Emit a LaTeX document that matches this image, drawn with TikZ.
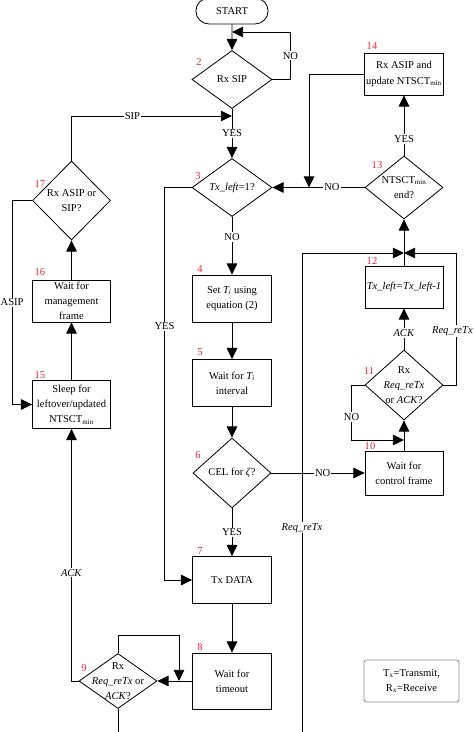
\documentclass[tikz,border=0pt]{standalone}
\usepackage{fontspec}
\setmainfont{Liberation Serif}
\usetikzlibrary{arrows.meta,shapes.geometric,shapes.misc}
\definecolor{numred}{RGB}{230,40,50}
\newlength\pxu
\setlength\pxu{0.03cm}

\begin{document}
\begin{tikzpicture}[x=0.03cm,y=-0.03cm,->,>={Triangle[length=9.5pt,width=9pt]},
                    line width=0.7pt,
                    every node/.style={font=\fontsize{9}{13}\selectfont}]
  \tikzstyle{block}=[rectangle,draw,minimum width=79\pxu,minimum height=47\pxu,inner sep=0.5pt,align=center]
  \tikzstyle{decision}=[diamond,draw,aspect=1.2,inner sep=-10pt,minimum width=78\pxu,align=center]
  \tikzstyle{terminal}=[rounded rectangle,draw,minimum width=80\pxu,minimum height=26\pxu]
  \tikzstyle{num}=[text=numred,inner sep=0pt]
  \tikzstyle{lbl}=[fill=white,inner sep=1pt]
  \tikzstyle{key}=[rectangle,draw=black!45,rounded corners=2pt,minimum width=95\pxu,minimum height=42\pxu,align=center]

  \useasboundingbox (0,0) rectangle (474,732);

  % main column
  \node[terminal]                                          (start)   at (232,11)    {START};
  \node[decision,minimum width=80\pxu,minimum height=58\pxu] (rxsip)   at (232,79.5)  {Rx SIP};
  \node[decision,minimum width=80\pxu,minimum height=58\pxu] (txleft)  at (232,187.5) {\textit{Tx\_left}=1?};
  \node[block]                                             (seti)    at (232,298.5) {Set \textit{T\textsubscript{i}} using\\equation (2)};
  \node[block]                                             (waiti)   at (232,383)   {Wait for \textit{T\textsubscript{i}}\\interval};
  \node[decision,minimum height=70\pxu]                     (cel)     at (232,473)   {CEL for \textit{ζ}?};
  \node[block]                                             (txdata)  at (232,580)   {Tx DATA};
  \node[block,minimum height=56\pxu]                        (timeout) at (232,681)   {Wait for\\timeout};

  % left column
  \node[decision,minimum height=55\pxu]                     (rxack)   at (118,681)   {Rx\\\textit{Req\_reTx} or\\\textit{ACK}?};
  \node[block,minimum width=78\pxu,minimum height=48\pxu]   (sleep)   at (71.5,404.5) {Sleep for\\leftover/updated\\NTSCT\textsubscript{min}};
  \node[block,minimum width=78\pxu,minimum height=42\pxu]   (mgmt)    at (71.5,301)  {Wait for\\management\\frame};
  \node[decision,minimum height=79\pxu]                     (rxasip)  at (71.5,200.5) {Rx ASIP or\\SIP?};

  % right column
  \node[block,minimum height=42\pxu]                        (update)  at (404,74)    {Rx ASIP and\\update NTSCT\textsubscript{min}};
  \node[decision,minimum height=63\pxu]                     (ntsct)   at (404,187.5) {NTSCT\textsubscript{min}\\end?};
  \node[block,minimum width=78\pxu,minimum height=42\pxu]   (dec)     at (404,287)   {\textit{Tx\_left=Tx\_left-1}};
  \node[decision,minimum height=70\pxu]                     (rxctrl)  at (404,385)   {Rx\\\textit{Req\_reTx}\\or \textit{ACK}?};
  \node[block,minimum width=78\pxu,minimum height=44\pxu]   (ctrl)    at (404,473)   {Wait for\\control frame};
  \node[key]                                               (legend)  at (411.5,681) {T\textsubscript{x}=Transmit,\\R\textsubscript{x}=Receive};

  % step numbers
  \node[num] (n2)  at (199,62)  {2};
  \node[num] (n3)  at (198,176) {3};
  \node[num] (n4)  at (200,269) {4};
  \node[num] (n5)  at (200,352) {5};
  \node[num] (n6)  at (198,455) {6};
  \node[num] (n7)  at (200,551) {7};
  \node[num] (n8)  at (200,647) {8};
  \node[num] (n9)  at (84,668)  {9};
  \node[num] (n10) at (370,446) {10};
  \node[num] (n11) at (369,371) {11};
  \node[num] (n12) at (372,261) {12};
  \node[num] (n13) at (377,165) {13};
  \node[num] (n14) at (372,46)  {14};
  \node[num] (n15) at (40,375)  {15};
  \node[num] (n16) at (40,272)  {16};
  \node[num] (n17) at (40,184)  {17};

  \coordinate (j1) at (232,32);
  \coordinate (j2) at (232,116);
  \coordinate (j3) at (179,681);
  \coordinate (j4) at (309,187.5);
  \coordinate (j5) at (404,253);
  \coordinate (j6) at (404,440);
  \coordinate (e1) at (118,740);
  \coordinate (e2) at (302,740);

  \path (start)   edge                                (rxsip)
        (rxsip)   edge node[lbl]{YES}                 (txleft)
        (txleft)  edge node[lbl,pos=0.35]{NO}         (seti)
        (seti)    edge                                (waiti)
        (waiti)   edge                                (cel)
        (cel)     edge node[lbl]{YES}                 (txdata)
        (txdata)  edge                                (timeout)
        (timeout) edge                                (rxack)
        (sleep)   edge                                (mgmt)
        (mgmt)    edge                                (rxasip)
        (ntsct)   edge node[lbl,pos=0.275]{YES}       (update)
        (ntsct)   edge node[lbl,pos=0.355]{NO}        (txleft)
        (rxctrl)  edge node[lbl,pos=0.4]{\textit{ACK}} (dec)
        (ctrl)    edge                                (rxctrl)
        (cel)     edge node[lbl,pos=0.55]{NO}         (ctrl)
        (j5)      edge                                (ntsct);

  \draw (rxsip.east) -- ++(18,0) |- node[lbl,pos=0.25]{NO} (j1);
  \draw (rxasip.north) |- node[lbl,pos=0.69]{SIP} (j2);
  \draw (txleft.west) -- ++(-27,0) |- node[lbl,pos=0.177]{YES} (txdata.west);
  \draw (rxack.north) -- ++(0,-18) -| (j3);
  \draw (rxack.west) -| node[lbl,pos=0.715]{\textit{ACK}} (sleep.south);
  \draw[-] (rxack.south) -- (e1);
  \draw (rxasip.west) -- ++(-20,0) |- node[lbl,pos=0.25]{ASIP} (sleep.west);
  \draw (update.west) -| (j4);
  \draw[-] (dec.north) -- (j5);
  \draw (rxctrl.east) -- ++(13,0) |- node[lbl,pos=0.205,xshift=-4\pxu]{\textit{Req\_reTx}} (j5);
  \draw (rxctrl.west) -- ++(-13,0) |- node[lbl,pos=0.29]{NO} (j6);
  \draw (e2) |- node[lbl,pos=0.218]{\textit{Req\_reTx}} (j5);

\end{tikzpicture}
\end{document}
